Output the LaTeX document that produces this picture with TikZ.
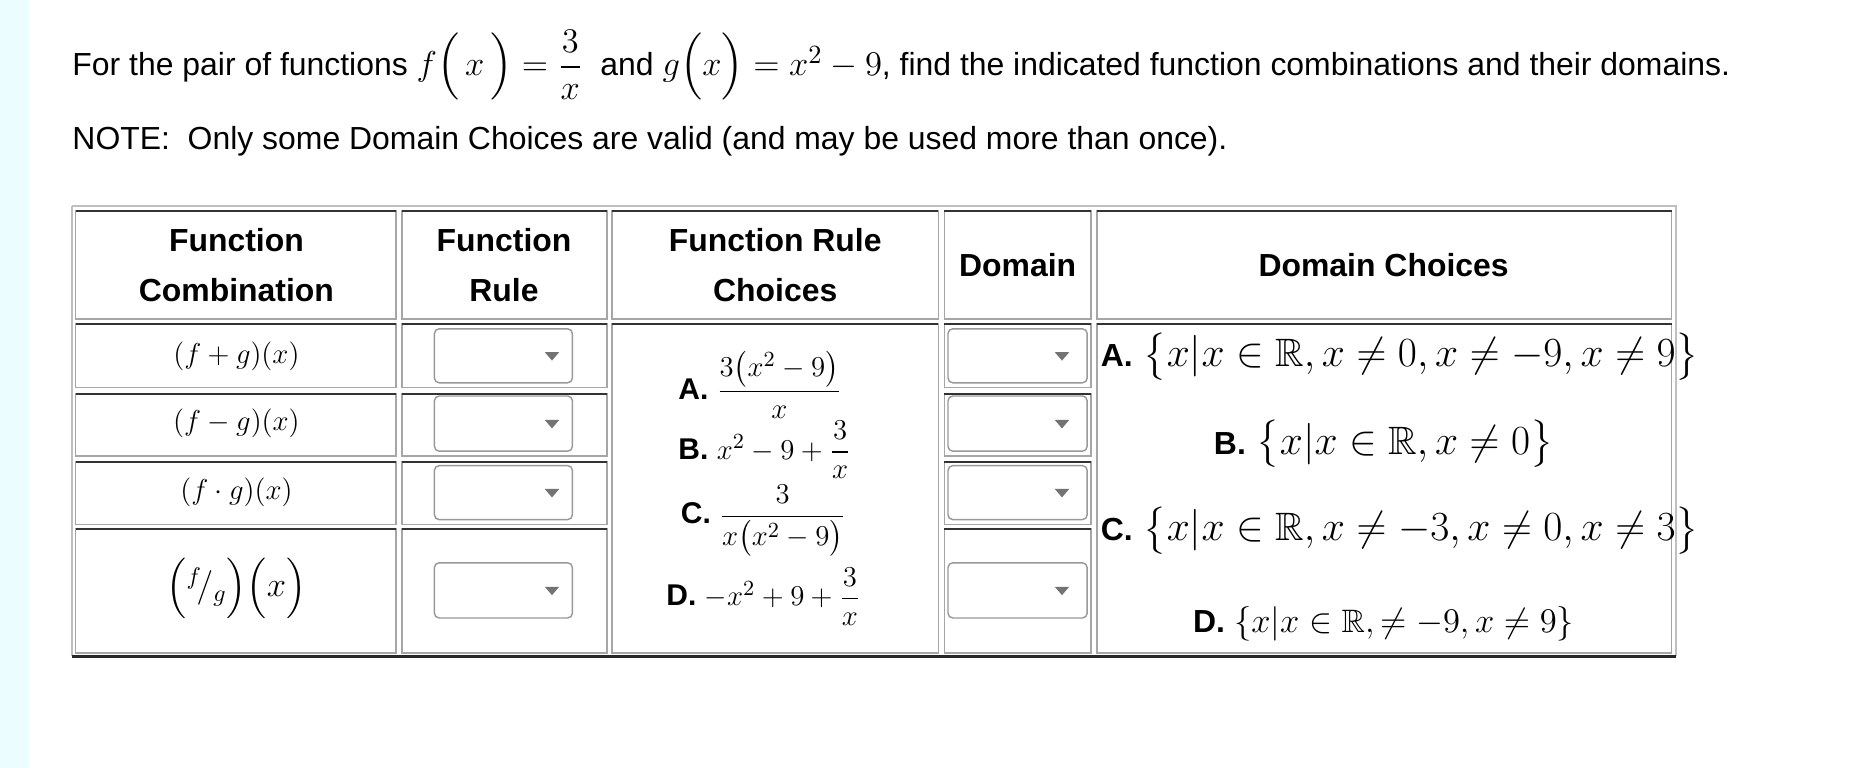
\documentclass[tikz,border=0pt]{standalone}
\usepackage{amsmath,amssymb}
\usepackage{fontspec}
\setmainfont{Liberation Sans}
\begin{document}
\begin{tikzpicture}[x=0.5pt,y=-0.5pt,
  txt/.style={font=\fontsize{13.3}{15}\selectfont, inner sep=0pt},
  hdr/.style={font=\fontsize{13.3}{21}\selectfont\bfseries, align=center, inner sep=0pt},
  mth/.style={font=\fontsize{12.5}{14}\selectfont, inner sep=0pt},
  rmth/.style={font=\fontsize{12.5}{14}\selectfont, inner sep=0pt},
  dmth/.style={font=\fontsize{16.5}{18}\selectfont, inner sep=0pt},
  cellbox/.style={draw=black!35, line width=0.6pt},
  dd/.style={draw=black!40, rounded corners=2pt, line width=0.6pt},
  tri/.style={fill=black!55, draw=none}]
\useasboundingbox (0,0) rectangle (1560,640);
\fill[white] (0,0) rectangle (1560,640);
\fill[blue!10!cyan!8] (0,0) rectangle (24,640);
% intro
\node[txt, anchor=base west] (l1) at (60,63) {For the pair of functions {\fontsize{15.5}{17}\selectfont\(f\!\left(\vphantom{\dfrac{3}{x}}\,x\,\right)=\dfrac{3}{x}\)} \ and {\fontsize{15.5}{17}\selectfont\(g\Bigl(x\Bigr)=x^2-9\)}, find the indicated function combinations and their domains.};
\node[txt, anchor=base west] (l2) at (60,125) {NOTE:\ \ Only some Domain Choices are valid (and may be used more than once).};
% outer frame
\draw[black!25, line width=0.8pt] (60,172) -- (1397,172) -- (1397,547);
\draw[black!25, line width=0.8pt] (60,172) -- (60,547);
\draw[black!85, line width=1.4pt] (60,547) -- (1397,547);
% cells
\foreach \xa/\xb in {63/330,335/506,510/782,787/909,914/1393}{
  \draw[cellbox] (\xa,176) rectangle (\xb,266);
  \draw[black!80, line width=0.9pt] (\xa,176) -- (\xb,176);}
\foreach \xa/\xb in {63/330,335/506,787/909}{
  \foreach \ya/\yb in {270/323,328/380,385/437,441/544}{
    \draw[cellbox] (\xa,\ya) rectangle (\xb,\yb);
    \draw[black!80, line width=0.9pt] (\xa,\ya) -- (\xb,\ya);}}
\foreach \xa/\xb in {510/782,914/1393}{
  \draw[cellbox] (\xa,270) rectangle (\xb,544);
  \draw[black!80, line width=0.9pt] (\xa,270) -- (\xb,270);}
% headers
\node[hdr] (h1) at (197,221) {Function\\Combination};
\node[hdr] (h2) at (420,221) {Function\\Rule};
\node[hdr] (h3) at (646,221) {Function Rule\\Choices};
\node[hdr] (h4) at (848,221) {Domain};
\node[hdr] (h5) at (1153,221) {Domain Choices};
% combinations
\node[mth] (c1) at (197,297) {$(f+g)(x)$};
\node[mth] (c2) at (197,353) {$(f-g)(x)$};
\node[mth] (c3) at (197,410) {$(f\cdot g)(x)$};
\node[mth, font=\fontsize{14}{16}\selectfont] (c4) at (197,490) {$\Bigl({}^{f}\!/{}_{g}\Bigr)\Bigl(x\Bigr)$};
% dropdowns
\foreach \n/\ya/\yb in {a/274/319,b/330/376,c/388/433,d/469/515}{
  \draw[dd] (362,\ya) rectangle (477,\yb);
  \fill[tri] (454,{(\ya+\yb)/2-3}) -- (466,{(\ya+\yb)/2-3}) -- (460,{(\ya+\yb)/2+4}) -- cycle;
  \draw[dd] (790,\ya) rectangle (906,\yb);
  \fill[tri] (879,{(\ya+\yb)/2-3}) -- (891,{(\ya+\yb)/2-3}) -- (885,{(\ya+\yb)/2+4}) -- cycle;}
% rule choices
\node[rmth, anchor=west] (ra) at (565,321) {\textbf{A.}\ $\dfrac{3\bigl(x^2-9\bigr)}{\hphantom{AA}x\hphantom{AA}}$};
\node[rmth, anchor=west] (rb) at (565,375) {\textbf{B.} $x^2-9+\dfrac{3}{x}$};
\node[rmth, anchor=west] (rc) at (567,434) {\textbf{C.}\ $\dfrac{3}{x\bigl(x^2-9\bigr)}$};
\node[rmth, anchor=west] (rd) at (555,497) {\textbf{D.} $-x^2+9+\dfrac{3}{x}$};
% domain choices
\node[dmth, anchor=west] (da) at (917,297) {{\fontsize{13.3}{15}\selectfont\textbf{A.}} $\bigl\{x|x\in\mathbb{R},x\neq0,x\neq-9,x\neq9\bigr\}$};
\node[dmth] (db) at (1153,370) {{\fontsize{13.3}{15}\selectfont\textbf{B.}} $\bigl\{x|x\in\mathbb{R},x\neq0\bigr\}$};
\node[dmth, anchor=west] (dc) at (917,442) {{\fontsize{13.3}{15}\selectfont\textbf{C.}} $\bigl\{x|x\in\mathbb{R},x\neq-3,x\neq0,x\neq3\bigr\}$};
\node[mth, font=\fontsize{13.5}{15}\selectfont] (dd) at (1153,520) {{\fontsize{13.3}{15}\selectfont\textbf{D.}} $\{x|x\in\mathbb{R},\neq-9,x\neq9\}$};
\end{tikzpicture}
\end{document}
